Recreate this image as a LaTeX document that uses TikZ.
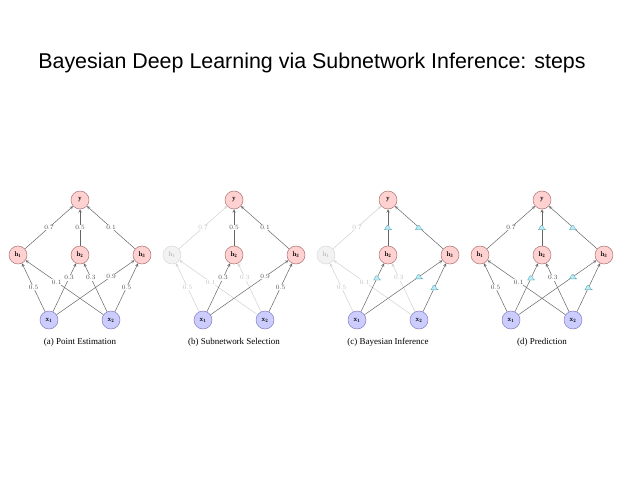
\documentclass[tikz,border=0pt]{standalone}
\usepackage{fontspec}
\newfontfamily\sansf{Liberation Sans}
\newfontfamily\serf{Liberation Serif}
\begin{document}
\begin{tikzpicture}[x=1bp,y=-1bp,
  hid/.style={circle,draw=red!40!black!55,fill=red!18!white,line width=0.5pt,minimum size=18bp,inner sep=0pt,font=\scriptsize},
  inp/.style={circle,draw=blue!50!black!50,fill=blue!20!white,line width=0.5pt,minimum size=18bp,inner sep=0pt,font=\scriptsize},
  off/.style={circle,draw=black!15,fill=black!5,text=black!25,line width=0.5pt,minimum size=18bp,inner sep=0pt,font=\scriptsize},
  on/.style={draw=black!60,line width=0.5pt,-stealth},
  fad/.style={draw=black!18,line width=0.5pt,-stealth},
  lab/.style={fill=white,inner sep=0.6pt,font=\fontsize{6.5}{7}\selectfont,text=black!70},
  flab/.style={fill=white,inner sep=0.6pt,font=\fontsize{6.5}{7}\selectfont,text=black!25},
  blab/.style={inner sep=0pt},
  captxt/.style={font=\serf\fontsize{9}{10}\selectfont}]
\useasboundingbox (0,0) rectangle (638,478);
\newcommand\bellsym{\tikz[x=1bp,y=1bp]\filldraw[fill=cyan!25,draw=teal!70,line width=0.3pt] (0,0) .. controls (1.2,0) and (1.5,4.5) .. (3.5,4.5) .. controls (5,4.5) and (5.5,0) .. (7.5,0) -- cycle;}
\newcommand\Net[4]{%
  \node[hid] (#1y) at (#2+80,200) {$\mathbf{y}$};
  \node[#3] (#1h1) at (#2+18,255) {$\mathbf{h_1}$};
  \node[hid] (#1h2) at (#2+80,255) {$\mathbf{h_2}$};
  \node[hid] (#1h3) at (#2+142,255) {$\mathbf{h_3}$};
  \node[inp] (#1x1) at (#2+49,320) {$\mathbf{x_1}$};
  \node[inp] (#1x2) at (#2+111,320) {$\mathbf{x_2}$};
  \node[captxt] (#1cap) at (#2+80,342) {#4};}
\newcommand\E[6]{\draw[#1] (#3) -- (#4) node[#2,pos=#5] {#6};}
\node[font=\sansf\fontsize{21.5}{24}\selectfont] (title) at (312,63) {Bayesian Deep Learning via Subnetwork Inference: steps};
% (a)
\Net{a}{0}{hid}{(a)\ Point Estimation}
\E{on}{lab}{ah1}{ay}{0.5}{0.7}
\E{on}{lab}{ah2}{ay}{0.5}{0.5}
\E{on}{lab}{ah3}{ay}{0.5}{0.1}
\E{on}{lab}{ax1}{ah1}{0.5}{0.5}
\E{on}{lab}{ax2}{ah1}{0.6}{0.1}
\E{on}{lab}{ax1}{ah2}{0.7}{0.3}
\E{on}{lab}{ax2}{ah2}{0.7}{0.3}
\E{on}{lab}{ax1}{ah3}{0.7}{0.9}
\E{on}{lab}{ax2}{ah3}{0.5}{0.5}
% (b)
\Net{b}{154}{off}{(b)\ Subnetwork Selection}
\E{fad}{flab}{bh1}{by}{0.5}{0.7}
\E{on}{lab}{bh2}{by}{0.5}{0.5}
\E{on}{lab}{bh3}{by}{0.5}{0.1}
\E{fad}{flab}{bx1}{bh1}{0.5}{0.5}
\E{fad}{flab}{bx2}{bh1}{0.6}{0.1}
\E{on}{lab}{bx1}{bh2}{0.7}{0.3}
\E{fad}{flab}{bx2}{bh2}{0.7}{0.3}
\E{on}{lab}{bx1}{bh3}{0.7}{0.9}
\E{on}{lab}{bx2}{bh3}{0.5}{0.5}
% (c)
\Net{c}{308}{off}{(c)\ Bayesian Inference}
\E{fad}{flab}{ch1}{cy}{0.5}{0.7}
\E{on}{blab}{ch2}{cy}{0.5}{\bellsym}
\E{on}{blab}{ch3}{cy}{0.5}{\bellsym}
\E{fad}{flab}{cx1}{ch1}{0.5}{0.5}
\E{fad}{flab}{cx2}{ch1}{0.6}{0.1}
\E{on}{blab}{cx1}{ch2}{0.7}{\bellsym}
\E{fad}{flab}{cx2}{ch2}{0.7}{0.3}
\E{on}{blab}{cx1}{ch3}{0.7}{\bellsym}
\E{on}{blab}{cx2}{ch3}{0.5}{\bellsym}
% (d)
\Net{d}{462}{hid}{(d)\ Prediction}
\E{on}{lab}{dh1}{dy}{0.5}{0.7}
\E{on}{blab}{dh2}{dy}{0.5}{\bellsym}
\E{on}{blab}{dh3}{dy}{0.5}{\bellsym}
\E{on}{lab}{dx1}{dh1}{0.5}{0.5}
\E{on}{lab}{dx2}{dh1}{0.6}{0.1}
\E{on}{blab}{dx1}{dh2}{0.7}{\bellsym}
\E{on}{lab}{dx2}{dh2}{0.7}{0.3}
\E{on}{blab}{dx1}{dh3}{0.7}{\bellsym}
\E{on}{blab}{dx2}{dh3}{0.5}{\bellsym}
\end{tikzpicture}
\end{document}
